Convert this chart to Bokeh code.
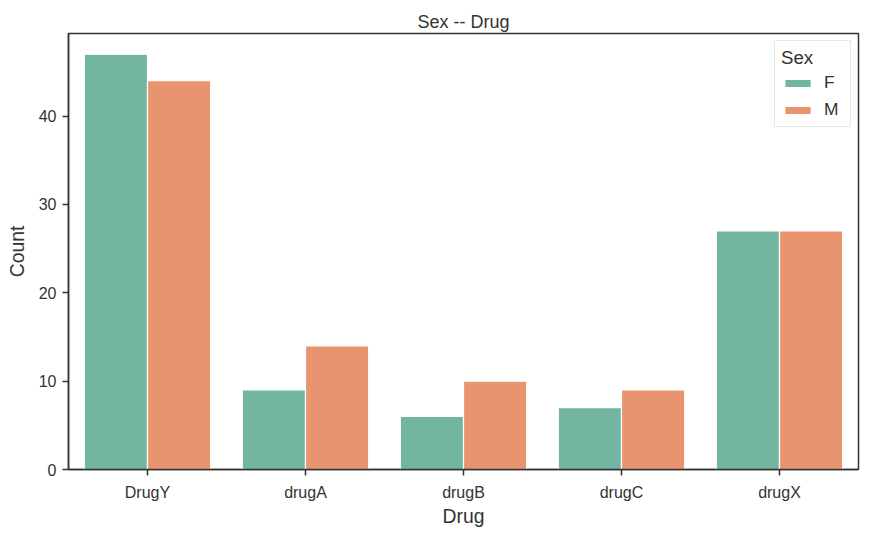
from bokeh.plotting import figure
from bokeh.models import ColumnDataSource, FactorRange, Range1d, Legend, LegendItem, FixedTicker
from bokeh.transform import dodge
from bokeh.embed import file_html
from bokeh.resources import INLINE

drugs = ["DrugY", "drugA", "drugB", "drugC", "drugX"]
count_f = [47, 9, 6, 7, 27]
count_m = [44, 14, 10, 9, 27]
sexes = ["F", "M"]
colors = ["#72b6a1", "#e8956f"]
y_ticks = [0, 10, 20, 30, 40]

src = ColumnDataSource(dict(drug=drugs, F=count_f, M=count_m))

FONT = "Liberation Sans"
DARK = "#333333"

p = figure(width=866, height=530, output_backend="svg", toolbar_location=None,
           x_range=FactorRange(*drugs, range_padding=0), y_range=Range1d(0, 49.35),
           title="Sex -- Drug", min_border_left=68, min_border_top=33,
           min_border_right=8, min_border_bottom=61)
p.x_range.range_padding = 0

renderers = []
for i, s in enumerate(sexes):
    r = p.vbar(x=dodge("drug", -0.2 + 0.4 * i, range=p.x_range), top=s, width=0.4,
               source=src, fill_color=colors[i], line_color="white", line_width=1.2)
    renderers.append(r)

p.title.align = "center"
p.title.text_font = FONT
p.title.text_font_size = "13.5pt"
p.title.text_font_style = "normal"
p.title.text_color = DARK
p.title.standoff = 4

p.xgrid.visible = False
p.ygrid.visible = False
p.outline_line_color = DARK
p.outline_line_width = 1.5

for ax in (p.xaxis[0], p.yaxis[0]):
    ax.axis_line_color = DARK
    ax.axis_line_width = 1.5
    ax.major_tick_line_color = DARK
    ax.major_tick_line_width = 1.5
    ax.major_tick_out = 6
    ax.major_tick_in = 0
    ax.minor_tick_line_color = None
    ax.major_label_text_font = FONT
    ax.major_label_text_font_size = "12pt"
    ax.major_label_text_color = DARK
    ax.axis_label_text_font = FONT
    ax.axis_label_text_font_size = "14.5pt"
    ax.axis_label_text_font_style = "normal"
    ax.axis_label_text_color = DARK

p.xaxis.axis_label = "Drug"
p.yaxis.axis_label = "Count"
p.yaxis.ticker = FixedTicker(ticks=y_ticks)
p.xaxis.axis_label_standoff = 2
p.yaxis.axis_label_standoff = 8
p.xaxis.major_label_standoff = 8
p.yaxis.major_label_standoff = 6

legend = Legend(items=[LegendItem(label=s, renderers=[renderers[i]]) for i, s in enumerate(sexes)],
                location="top_right", title="Sex")
legend.title_text_font = FONT
legend.title_text_font_size = "14pt"
legend.title_text_font_style = "normal"
legend.title_text_color = DARK
legend.title_standoff = 3
legend.label_text_font = FONT
legend.label_text_font_size = "13pt"
legend.label_text_color = DARK
legend.label_height = 18
legend.glyph_width = 33
legend.glyph_height = 10
legend.label_standoff = 10
legend.border_line_color = "#d0d0d0"
legend.margin = 7
legend.padding = 6
legend.spacing = 6
p.add_layout(legend)

open("out.html", "w").write(file_html(p, INLINE))
